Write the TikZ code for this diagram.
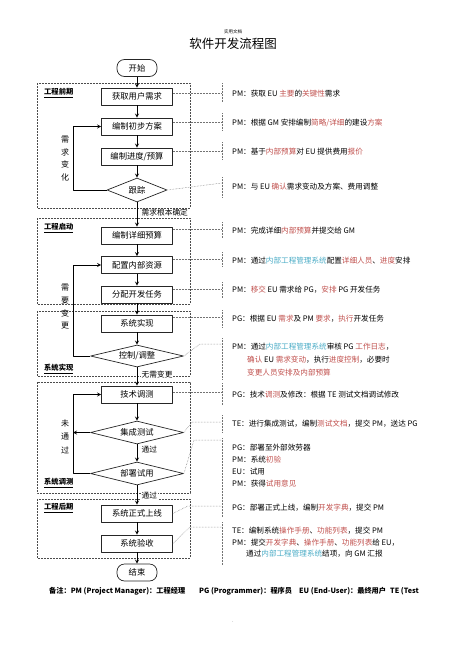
\documentclass[tikz,border=0pt]{standalone}
\usepackage{fontspec}
\setmainfont{Noto Sans CJK SC}
\usetikzlibrary{shapes.geometric}

\definecolor{keyred}{RGB}{192,80,77}
\definecolor{sysblue}{RGB}{75,172,198}
\newcommand{\kr}[1]{\textcolor{keyred}{#1}}
\newcommand{\ksys}[1]{\textcolor{sysblue}{#1}}

\begin{document}
\begin{tikzpicture}[
    x=1pt,
    y=-1pt,
    line join=round,
    >=stealth,
    proc/.style={draw=black!85, line width=0.7pt, fill=white, minimum width=71pt, minimum height=17pt, inner sep=0pt, font=\fontsize{8.3}{10}\selectfont},
    term/.style={draw=black!85, line width=0.7pt, fill=white, rounded corners=7.5pt, minimum width=40pt, minimum height=17pt, inner sep=0pt, font=\fontsize{8.3}{10}\selectfont},
    decide/.style={draw=black!85, diamond, aspect=4, line width=0.7pt, fill=white, inner sep=0pt, font=\fontsize{8.3}{10}\selectfont},
    flow/.style={->, line width=0.8pt},
    group/.style={draw=black!70, line width=0.6pt, dash pattern=on 1.8pt off 1.2pt},
    grouplabel/.style={anchor=west, inner sep=0pt, font=\fontsize{7.3}{9}\selectfont\bfseries},
    link/.style={draw=black!55, line width=0.5pt, densely dotted},
    note/.style={anchor=west, inner sep=0pt, align=left, font=\fontsize{7.6}{12}\selectfont},
    side/.style={align=center, inner sep=0pt, font=\fontsize{8}{12.7}\selectfont},
    pass/.style={anchor=west, fill=white, inner sep=0.5pt, font=\fontsize{7.7}{9}\selectfont},
    foot/.style={anchor=west, inner sep=0pt, font=\fontsize{7.2}{9}\selectfont\bfseries}
]
\useasboundingbox (0,0) rectangle (474,670);

% 标题
\node[font=\fontsize{4.5}{5}\selectfont] (doc) at (233,32) {实用文档};
\node[font=\fontsize{12.5}{14}\selectfont] (title) at (233,44) {软件开发流程图};

% 阶段框
\draw[group] (37,83) rectangle (190,208);
\draw[group] (37,218) rectangle (190,304);
\draw[group] (37,311) rectangle (190,376);
\draw[group] (37,382) rectangle (190,493);
\draw[group] (37,499) rectangle (190,558);

\node[grouplabel] (stage1) at (44,93) {\underline{工程前期}};
\node[grouplabel] (stage2) at (44,228) {\underline{工程启动}};
\node[grouplabel] (stage3) at (44,369) {\underline{系统实现}};
\node[grouplabel] (stage4) at (44,483) {\underline{系统调测}};
\node[grouplabel] (stage5) at (44,508) {\underline{工程后期}};

% 流程节点
\node[term] (start) at (137,68) {开始};
\node[proc] (req) at (137,96.5) {获取用户需求};
\node[proc] (plan) at (137,126.5) {编制初步方案};
\node[proc] (budget) at (137,156.5) {编制进度/预算};
\node[decide, minimum width=60pt, minimum height=24pt] (track) at (137,190) {跟踪};
\node[proc] (detail) at (137,235.5) {编制详细预算};
\node[proc] (res) at (137,265) {配置内部资源};
\node[proc] (task) at (137,294.5) {分配开发任务};
\node[proc] (impl) at (137,323.5) {系统实现};
\node[decide, minimum width=93pt, minimum height=22pt] (ctrl) at (137,356) {控制/调整};
\node[proc] (debug) at (137,394.5) {技术调测};
\node[decide, minimum width=93pt, minimum height=23pt] (itest) at (137,432.5) {集成测试};
\node[decide, minimum width=93pt, minimum height=23pt] (trial) at (137,473.5) {部署试用};
\node[proc] (golive) at (137,513.5) {系统正式上线};
\node[proc] (accept) at (137,543.5) {系统验收};
\node[term] (stop) at (137,572.5) {结束};

% 主流程
\draw[flow] (start) -- (req);
\draw[flow] (req) -- (plan);
\draw[flow] (plan) -- (budget);
\draw[flow] (budget) -- (track);
\draw[flow] (track) -- (detail);
\draw[flow] (detail) -- (res);
\draw[flow] (res) -- (task);
\draw[flow] (task) -- (impl);
\draw[flow] (impl) -- (ctrl);
\draw[flow] (ctrl) -- (debug);
\draw[flow] (debug) -- (itest);
\draw[flow] (itest) -- (trial);
\draw[flow] (trial) -- (golive);
\draw[flow] (golive) -- (accept);
\draw[flow] (accept) -- (stop);

\node[pass] (sure) at (141,213) {需求根本确定};
\node[pass] (nochg) at (141,375) {无需变更};
\node[pass] (ok1) at (141,450) {通过};
\node[pass] (ok2) at (141,496) {通过};

% 回路
\coordinate (loopA) at (73,190);
\coordinate (loopB) at (73,356);
\coordinate (loopC) at (73,432.5);
\coordinate (loopD) at (73,473.5);
\draw[flow] (track.west) -- (loopA) |- (plan.west);
\draw[flow] (ctrl.west) -- (loopB) |- (res.west);
\draw[flow] (itest.west) -- (loopC);
\draw[flow] (trial.west) -- (loopD) |- (debug.west);

\node[side] (chg1) at (65,158.5) {需\\求\\变\\化};
\node[side] (chg2) at (65,307) {需\\要\\变\\更};
\node[side, font=\fontsize{8}{13.5}\selectfont] (fail) at (65,436.5) {未\\通\\过};

% 右侧说明
\foreach \ya/\yb in {83/102, 113/130, 142/160, 177/197, 222/238, 252/267, 282/298, 310/328, 338/380, 383/405, 415/432, 438/500, 495/517, 522/565}
    \draw[link] (222,\ya) -- (222,\yb);

\coordinate (t1) at (222,93);
\coordinate (t2) at (222,122);
\coordinate (t3) at (222,151);
\coordinate (t4) at (222,183);
\coordinate (t5) at (222,229);
\coordinate (t6) at (222,259);
\coordinate (t7) at (222,289);
\coordinate (t8) at (222,317);
\coordinate (t9) at (222,344);
\coordinate (t10) at (222,392);
\coordinate (t11) at (222,422);
\coordinate (t12) at (222,440);
\coordinate (t13) at (222,506);
\coordinate (t14) at (222,527);

\draw[link] (req.east |- t1) -- (t1);
\draw[link] (plan.east |- t2) -- (t2);
\draw[link] (budget.east |- t3) -- (t3);
\draw[link] (track.east) -- (t4);
\draw[link] (detail.east |- t5) -- (t5);
\draw[link] (res.east |- t6) -- (t6);
\draw[link] (task.east |- t7) -- (t7);
\draw[link] (impl.east |- t8) -- (t8);
\draw[link] (ctrl.east) -- (200,344) -- (t9);
\draw[link] (debug.east |- t10) -- (t10);
\draw[link] (itest.east) -- (192,422) -- (t11);
\draw[link] (trial.east) -- (194,440) -- (t12);
\draw[link] (golive.east) -- (188,506) -- (t13);
\draw[link] (accept.east) -- (190,527) -- (t14);

\node[note] (n1) at (232,94) {PM：获取 EU \kr{主要}的\kr{关键性}需求};
\node[note] (n2) at (232,123) {PM：根据 GM 安排编制\kr{简略/详细}的建设\kr{方案}};
\node[note] (n3) at (232,152) {PM：基于\kr{内部预算}对 EU 提供费用\kr{报价}};
\node[note] (n4) at (232,187) {PM：与 EU \kr{确认}需求变动及方案、费用调整};
\node[note] (n5) at (232,231) {PM：完成详细\kr{内部预算}并提交给 GM};
\node[note] (n6) at (232,261) {PM：通过\ksys{内部工程管理系统}配置\kr{详细人员}、\kr{进度}安排};
\node[note] (n7) at (232,290) {PM：\kr{移交} EU 需求给 PG，\kr{安排} PG 开发任务};
\node[note] (n8) at (232,319) {PG：根据 EU \kr{需求}及 PM \kr{要求}，\kr{执行}开发任务};
\node[note, font=\fontsize{7.6}{13}\selectfont] (n9) at (232,360) {PM：通过\ksys{内部工程管理系统}审核 PG \kr{工作日志}，\\
    \hspace*{15pt}\kr{确认} EU \kr{需求变动}，执行\kr{进度控制}，必要时\\
    \hspace*{15pt}\kr{变更人员安排及内部预算}};
\node[note] (n10) at (232,395) {PG：技术\kr{调测}及修改：根据 TE 测试文档调试修改};
\node[note] (n11) at (232,424) {TE：进行集成测试，编制\kr{测试文档}，提交 PM，送达 PG};
\node[note] (n12) at (232,466) {PG：部署至外部效劳器\\PM：系统\kr{初验}\\EU：试用\\PM：获得\kr{试用意见}};
\node[note] (n13) at (232,508) {PG：部署正式上线，编制\kr{开发字典}，提交 PM};
\node[note, font=\fontsize{7.6}{11.5}\selectfont] (n14) at (232,542.5) {TE：编制系统\kr{操作手册}、\kr{功能列表}，提交 PM\\
    PM：提交\kr{开发字典}、\kr{操作手册}、\kr{功能列表}给 EU，\\
    \hspace*{14pt}通过\ksys{内部工程管理系统}结项，向 GM 汇报};

% 备注
\node[foot] (f1) at (49,591) {备注：PM (Project Manager)：工程经理};
\node[foot] (f2) at (199,591) {PG (Programmer)：程序员};
\node[foot] (f3) at (299,591) {EU (End-User)：最终用户};
\node[foot] (f4) at (390,591) {TE (Test};

\node[font=\fontsize{4}{5}\selectfont] (dot) at (233,622) {.};
\end{tikzpicture}
\end{document}
